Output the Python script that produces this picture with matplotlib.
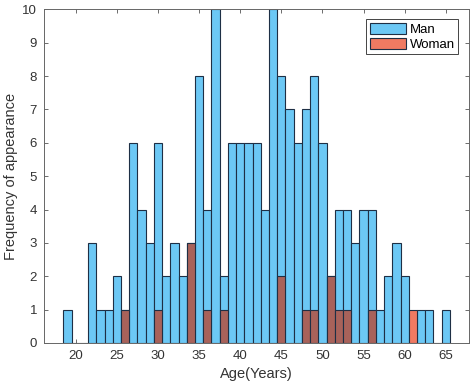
import numpy as np
import matplotlib
matplotlib.use("Agg")
import matplotlib.pyplot as plt
from matplotlib.patches import Patch

ages = np.arange(19, 66)
man = [1, 0, 0, 3, 1, 1, 2, 1, 6, 4, 3, 6, 2, 3, 2, 3, 8, 4, 10, 2,
       6, 6, 6, 6, 4, 10, 8, 7, 6, 7, 8, 6, 2, 4, 4, 3, 4, 4, 1, 2,
       3, 2, 0, 1, 1, 0, 1]
woman = [0, 0, 0, 0, 0, 0, 0, 1, 0, 0, 0, 1, 0, 0, 0, 3, 0, 1, 0, 1,
         0, 0, 0, 0, 0, 0, 2, 0, 0, 1, 1, 0, 2, 1, 1, 0, 0, 1, 0, 0,
         0, 0, 1, 0, 0, 0, 0]

blue = "#6cc8f5"
orange = "#f07a62"
brown = "#a8625a"
edge = "#1e2f45"

matplotlib.rcParams["font.family"] = ["Liberation Sans", "DejaVu Sans"]

fig = plt.figure(figsize=(4.74, 3.88), dpi=100)
ax = fig.add_axes([0.093, 0.116, 0.896, 0.86])

ax.bar(ages, man, width=1.0, color=blue, edgecolor=edge, linewidth=0.8, zorder=2)
# overlap of the two histograms shows up darker
wcol = np.where(np.array(man) > 0, brown, orange)
wh = np.array(woman)
ax.bar(ages[wh > 0], wh[wh > 0], width=1.0, color=wcol[wh > 0], edgecolor=edge,
       linewidth=0.8, zorder=3)

ax.set_xlim(16.15, 67.8)
ax.set_ylim(0, 10)
ax.set_xticks(np.arange(20, 66, 5))
ax.set_yticks(np.arange(0, 11, 1))
ax.tick_params(direction="in", top=True, right=True, length=3, width=0.6,
               colors="#555555", labelcolor="#333333", labelsize=9.5, pad=5)
for s in ax.spines.values():
    s.set_color("#666666")
    s.set_linewidth(0.7)

ax.set_xlabel("Age(Years)", fontsize=10.5, color="#333333", labelpad=4)
ax.set_ylabel("Frequency of appearance", fontsize=10.5, color="#333333", labelpad=3)

handles = [Patch(facecolor=blue, edgecolor=edge, linewidth=0.8, label="Man"),
           Patch(facecolor=orange, edgecolor=edge, linewidth=0.8, label="Woman")]
leg = ax.legend(handles=handles, loc="upper right", fontsize=9.5, fancybox=False,
                framealpha=1, edgecolor="#444444", handlelength=2.8, handleheight=0.9,
                handletextpad=0.25, borderpad=0.25, labelspacing=0.15,
                borderaxespad=0, bbox_to_anchor=(0.975, 0.97))
leg.get_frame().set_linewidth(0.7)

fig.savefig("out.png", dpi=100)
